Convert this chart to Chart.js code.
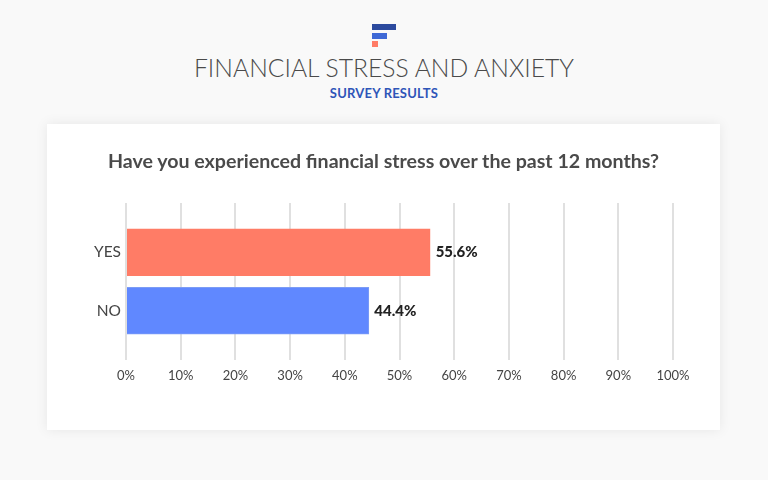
<!DOCTYPE html>
<html>
<head>
<meta charset="utf-8">
<script src="https://cdn.jsdelivr.net/npm/chart.js@4"></script>
<style>
  html, body { margin: 0; padding: 0; }
  body { width: 768px; height: 480px; background: #f9f9f9; position: relative; overflow: hidden; font-family: Lato, sans-serif; }
  .logo div { position: absolute; }
  .logo .a { left: 372px; top: 24px; width: 24px; height: 6px; background: #2c4a9e; }
  .logo .b { left: 372px; top: 33px; width: 15px; height: 6px; background: #3f69d6; }
  .logo .c { left: 372px; top: 41px; width: 6px; height: 6px; background: #ff7c66; }
  h1 { position: absolute; left: 0; width: 768px; top: 52px; margin: 0; text-align: center; font-size: 24.7px; line-height: 32px; font-weight: 300; color: #4a4a4a; }
  h2 { position: absolute; left: 0; width: 768px; top: 84px; margin: 0; text-align: center; font-size: 13px; line-height: 18px; font-weight: 700; letter-spacing: 0.2px; color: #2f55b8; }
  .card { position: absolute; left: 47px; top: 124px; width: 673px; height: 306px; background: #fff; box-shadow: 0 0 12px rgba(0,0,0,0.08); }
  .card h3 { position: absolute; left: 0; width: 673px; top: 24px; margin: 0; text-align: center; font-size: 19.6px; line-height: 26px; font-weight: 700; color: #4a4a4a; }
  canvas { display: block; }
</style>
</head>
<body>
<div class="logo"><div class="a"></div><div class="b"></div><div class="c"></div></div>
<h1>FINANCIAL STRESS AND ANXIETY</h1>
<h2>SURVEY RESULTS</h2>
<div class="card">
  <h3>Have you experienced financial stress over the past 12 months?</h3>
  <canvas id="chart" width="673" height="306"></canvas>
</div>
<script>
const categories = ['YES', 'NO'];
const percentages = [55.6, 44.4];
const barColors = ['#ff7c66', '#6088ff'];
const barBorders = ['#ff7c66', '#7c9cf5'];
const xTicks = [0, 10, 20, 30, 40, 50, 60, 70, 80, 90, 100];

// labels at the end of each bar
const valueLabels = {
  id: 'valueLabels',
  afterDatasetsDraw(chart) {
    const ctx = chart.ctx;
    const bars = chart.getDatasetMeta(0).data;
    ctx.save();
    ctx.font = '900 15px Lato, sans-serif';
    ctx.fillStyle = '#222222';
    ctx.textBaseline = 'middle';
    bars.forEach((bar, i) => {
      ctx.fillText(percentages[i].toFixed(1) + '%', bar.x + 5.5, bar.y);
    });
    ctx.restore();
  }
};

new Chart(document.getElementById('chart'), {
  type: 'bar',
  data: {
    datasets: [{
      data: categories.map((c, i) => ({ x: percentages[i], y: i })),
      backgroundColor: barColors,
      borderColor: barBorders,
      borderWidth: 1,
      barThickness: 47
    }]
  },
  options: {
    indexAxis: 'y',
    responsive: false,
    animation: false,
    layout: { padding: { top: 79, right: 47, bottom: 40, left: 0 } },
    scales: {
      x: {
        min: 0,
        max: 100,
        afterBuildTicks: axis => { axis.ticks = xTicks.map(v => ({ value: v })); },
        afterFit: axis => { axis.height = 30; },
        grid: { color: '#e0e0e0', lineWidth: 2, drawTicks: false },
        border: { display: false },
        ticks: {
          padding: 8,
          maxRotation: 0,
          autoSkip: false,
          color: '#444444',
          font: { family: 'Lato, sans-serif', size: 13 },
          callback: v => v + '%'
        }
      },
      y: {
        type: 'linear',
        reverse: true,
        offset: false,
        min: -0.842,
        max: 1.842,
        afterBuildTicks: axis => { axis.ticks = categories.map((c, i) => ({ value: i })); },
        afterFit: axis => { axis.width = 79; },
        grid: { display: false, drawTicks: false },
        border: { display: false },
        ticks: {
          padding: 5,
          color: '#444444',
          font: { family: 'Lato, sans-serif', size: 15.5 },
          callback: v => categories[v]
        }
      }
    },
    plugins: {
      legend: { display: false },
      tooltip: { enabled: false }
    }
  },
  plugins: [valueLabels]
});
</script>
</body>
</html>
